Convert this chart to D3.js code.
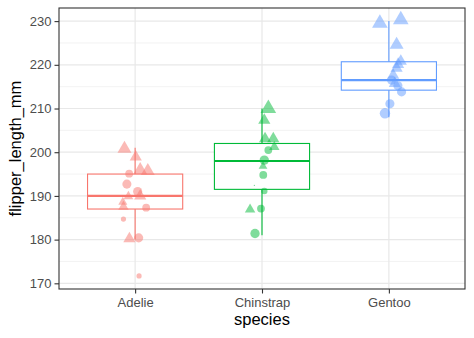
<!DOCTYPE html>
<html>
<head>
<meta charset="utf-8">
<script src="https://cdn.jsdelivr.net/npm/d3@7"></script>
<style>
  body { margin: 0; background: #fff; }
  svg { display: block; font-family: "Liberation Sans", Arial, Helvetica, sans-serif; }
</style>
</head>
<body>
<div id="chart"></div>
<script>
// categories and axis ticks
const species = ['Adelie', 'Chinstrap', 'Gentoo'];
const yTicks = [170, 180, 190, 200, 210, 220, 230];
const yMinor = [175, 185, 195, 205, 215, 225];

// box stats: [lower whisker, q1, median, q3, upper whisker]
const boxStats = [
  [180, 187, 190, 195, 201],
  [181, 191.5, 198, 202, 210],
  [208, 214.2, 216.5, 220.7, 230]
];

// jittered points: [flipper_length_mm, jitter (category units), sex, size]
const adeliePts = [
  [200.8, -0.084, 'male', 4], [198.9, 0.005, 'male', 3.5], [195.9, 0.04, 'male', 4],
  [195.7, 0.10, 'male', 4], [195.1, -0.047, 'female', 3], [192.7, -0.065, 'female', 3.5],
  [191.0, 0.02, 'female', 3.5], [189.9, -0.053, 'male', 2.8], [190.0, 0.04, 'male', 3.5],
  [188.6, -0.097, 'male', 2.6], [187.5, -0.092, 'male', 3], [187.3, 0.087, 'female', 3],
  [184.7, -0.092, 'female', 2], [180.2, -0.045, 'male', 3.5], [180.4, 0.028, 'female', 3.5],
  [171.7, 0.031, 'female', 2]
];
const chinstrapPts = [
  [210.0, 0.05, 'male', 4.5], [207.3, 0.018, 'male', 3.5], [203.1, 0.024, 'male', 3.5],
  [203.1, 0.089, 'male', 3.5], [201.2, 0.097, 'male', 3], [200.5, 0.05, 'female', 3],
  [198.2, 0.018, 'female', 3.6], [196.8, 0.008, 'male', 2.5], [194.8, 0.01, 'female', 3],
  [192.4, -0.06, 'female', 0.5], [191.1, 0.018, 'female', 2.5], [186.9, -0.094, 'male', 3],
  [187.1, -0.008, 'female', 3], [181.4, -0.055, 'female', 3.6]
];
const gentooPts = [
  [229.5, -0.071, 'male', 4.5], [230.3, 0.094, 'male', 4.5], [224.6, 0.061, 'male', 4],
  [220.8, 0.094, 'male', 3.5], [220.1, 0.073, 'male', 3.5], [219.2, 0.061, 'male', 3.5],
  [217.6, 0.034, 'male', 3.5], [216.5, 0.021, 'female', 3.5], [215.7, 0.047, 'male', 3.5],
  [215.2, 0.071, 'female', 3.5], [213.8, 0.10, 'female', 3.5], [211.1, 0.008, 'female', 3.5],
  [208.9, -0.031, 'female', 4]
];
const colours = ['#F8766D', '#00BA38', '#619CFF'];

const W = 474, H = 338;
const margin = { top: 8, right: 9, bottom: 49, left: 59 };

const svg = d3.select('#chart').append('svg')
  .attr('width', W)
  .attr('height', H);

const x = d3.scalePoint()
  .domain(species)
  .range([margin.left, W - margin.right])
  .padding(0.6);
const step = x.step();

const y = d3.scaleLinear()
  .domain([168.7, 233])
  .range([H - margin.bottom, margin.top]);

const r = d3.scaleLinear().domain([0, 1]).range([0, 1.3]);
const colour = d3.scaleOrdinal().domain(species).range(colours);

// grid
const grid = svg.append('g');
grid.selectAll('.minor')
  .data(yMinor)
  .join('line')
    .attr('x1', margin.left).attr('x2', W - margin.right)
    .attr('y1', d => y(d)).attr('y2', d => y(d))
    .attr('stroke', '#EBEBEB').attr('stroke-width', 0.6);
grid.selectAll('.major')
  .data(yTicks)
  .join('line')
    .attr('x1', margin.left).attr('x2', W - margin.right)
    .attr('y1', d => y(d)).attr('y2', d => y(d))
    .attr('stroke', '#E8E8E8').attr('stroke-width', 1.2);
grid.selectAll('.vmajor')
  .data(species)
  .join('line')
    .attr('x1', d => x(d)).attr('x2', d => x(d))
    .attr('y1', margin.top).attr('y2', H - margin.bottom)
    .attr('stroke', '#E8E8E8').attr('stroke-width', 1.2);

// boxplots
const boxW = step * 0.75;
const boxes = svg.append('g')
  .selectAll('g')
  .data(species.map((s, i) => ({ s, st: boxStats[i] })))
  .join('g')
    .attr('stroke', d => colour(d.s));

boxes.append('line')
  .attr('x1', d => x(d.s)).attr('x2', d => x(d.s))
  .attr('y1', d => y(d.st[0])).attr('y2', d => y(d.st[4]))
  .attr('stroke-width', 1.1);
boxes.append('rect')
  .attr('x', d => x(d.s) - boxW / 2)
  .attr('width', boxW)
  .attr('y', d => y(d.st[3]))
  .attr('height', d => y(d.st[1]) - y(d.st[3]))
  .attr('fill', '#fff')
  .attr('stroke-width', 1.1);
boxes.append('line')
  .attr('x1', d => x(d.s) - boxW / 2).attr('x2', d => x(d.s) + boxW / 2)
  .attr('y1', d => y(d.st[2])).attr('y2', d => y(d.st[2]))
  .attr('stroke-width', 2.1);

// jittered points
const allPts = [];
[adeliePts, chinstrapPts, gentooPts].forEach((pts, i) => {
  pts.forEach(p => allPts.push({ s: species[i], v: p[0], j: p[1], sex: p[2], size: p[3] }));
});

const symbol = d3.symbol()
  .type(d => d.sex === 'male' ? d3.symbolTriangle : d3.symbolCircle)
  .size(d => {
    const rad = r(d.size);
    return d.sex === 'male' ? 3.1 * rad * rad : Math.PI * rad * rad;
  });

svg.append('g')
  .selectAll('path')
  .data(allPts)
  .join('path')
    .attr('transform', d => `translate(${x(d.s) + d.j * step},${y(d.v)})`)
    .attr('d', symbol)
    .attr('fill', d => colour(d.s))
    .attr('fill-opacity', 0.5);

// panel border
svg.append('rect')
  .attr('x', margin.left).attr('y', margin.top)
  .attr('width', W - margin.left - margin.right)
  .attr('height', H - margin.top - margin.bottom)
  .attr('fill', 'none')
  .attr('stroke', '#333333')
  .attr('stroke-width', 1.1);

// axes
const yAxis = svg.append('g')
  .attr('transform', `translate(${margin.left},0)`)
  .call(d3.axisLeft(y).tickValues(yTicks).tickSize(4.5).tickPadding(3));
const xAxis = svg.append('g')
  .attr('transform', `translate(0,${H - margin.bottom})`)
  .call(d3.axisBottom(x).tickSize(4.5).tickPadding(4));

[xAxis, yAxis].forEach(a => {
  a.select('.domain').remove();
  a.selectAll('.tick line').attr('stroke', '#333333').attr('stroke-width', 1.1);
  a.selectAll('.tick text')
    .attr('fill', '#4D4D4D')
    .style('font-size', '13px')
    .style('font-family', '"Liberation Sans", Arial, Helvetica, sans-serif');
});

svg.append('text')
  .attr('x', (margin.left + W - margin.right) / 2)
  .attr('y', 325)
  .attr('text-anchor', 'middle')
  .style('font-size', '16.5px')
  .text('species');

svg.append('text')
  .attr('transform', `translate(21,${(margin.top + H - margin.bottom) / 2}) rotate(-90)`)
  .attr('text-anchor', 'middle')
  .style('font-size', '16.5px')
  .text('flipper_length_mm');
</script>
</body>
</html>
